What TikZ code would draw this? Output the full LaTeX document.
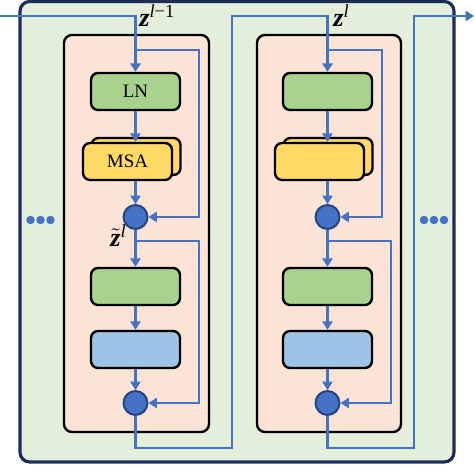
\documentclass[tikz,border=0pt]{standalone}
\usepackage{fontspec}
\setmainfont{Liberation Serif}
\usetikzlibrary{arrows.meta,calc}
\definecolor{outerfill}{HTML}{E3EEDB}
\definecolor{outerline}{HTML}{1F2B5B}
\definecolor{salmon}{HTML}{FBE3D5}
\definecolor{gbox}{HTML}{A9D18E}
\definecolor{ybox}{HTML}{FFD966}
\definecolor{bbox}{HTML}{9DC3E6}
\definecolor{lineblue}{HTML}{4472C4}
\definecolor{circfill}{HTML}{4472C4}
\definecolor{circline}{HTML}{22427F}
\tikzset{
  px/.style={x=0.02cm,y=-0.02cm},
  blockbox/.style={draw=black,line width=1.35pt,rounded corners=4pt,minimum width=1.78cm,minimum height=0.74cm,inner sep=0pt,font=\fontsize{10.8pt}{12pt}\selectfont},
  lnbox/.style={blockbox,fill=gbox},
  msabox/.style={blockbox,fill=ybox},
  mlpbox/.style={blockbox,fill=bbox},
  addc/.style={circle,draw=circline,fill=circfill,line width=1.1pt,minimum size=0.48cm,inner sep=0pt},
  conn/.style={draw=lineblue,line width=1.35pt},
  arr/.style={conn,-{Triangle[length=4.8pt,width=5.8pt]}},
  dotc/.style={circle,fill=lineblue,minimum size=0.17cm,inner sep=0pt},
  zlab/.style={inner sep=0pt,font=\fontsize{15pt}{16pt}\selectfont},
  framebox/.style={fill=salmon,draw=black,line width=1.35pt,rounded corners=4.5pt},
}
\begin{document}
\begin{tikzpicture}[px]
\useasboundingbox (0,0) rectangle (474,465);
% outer frame
\draw[fill=outerfill,draw=outerline,line width=1.8pt,rounded corners=5.5pt] (20,1.5) rectangle (454,462);
% inner blocks
\draw[framebox] (64,35) rectangle (209,432);
\draw[framebox] (257,35) rectangle (401,432);

% left block
\node[lnbox] (ln1) at (135.5,91.5) {LN};
\node[msabox] (msab1) at (136,156.5) {};
\node[msabox] (msa1) at (127.5,161.5) {MSA};
\node[addc] (c1) at (135.5,217) {};
\node[lnbox] (ln2) at (135.5,286.5) {};
\node[mlpbox] (mlp1) at (135.5,349.5) {};
\node[addc] (c2) at (135.5,403) {};

% right block
\node[lnbox] (ln3) at (327.5,91.5) {};
\node[msabox] (msab2) at (328,156.5) {};
\node[msabox] (msa2) at (319.5,161.5) {};
\node[addc] (c3) at (327.5,217) {};
\node[lnbox] (ln4) at (327.5,286.5) {};
\node[mlpbox] (mlp2) at (327.5,349.5) {};
\node[addc] (c4) at (327.5,403) {};

% coordinates
\coordinate (in) at (0,16);
\coordinate (out) at (474,16);
\coordinate (s1) at (135.5,50);
\coordinate (s2) at (135.5,241);
\coordinate (s3) at (327.5,50);
\coordinate (s4) at (327.5,241);

% left connectors
\draw[arr] (in) -| (ln1.north);
\draw[arr] (s1) -| (199,217) -- (c1.east);
\draw[arr] (ln1.south) -- (ln1.south |- msa1.north);
\draw[arr] (ln1.south |- msa1.south) -- (c1.north);
\draw[arr] (c1.south) -- (ln2.north);
\draw[arr] (s2) -| (199,403) -- (c2.east);
\draw[arr] (ln2.south) -- (mlp1.north);
\draw[arr] (mlp1.south) -- (c2.north);
\draw[arr] (c2.south) |- (232,448) |- (327.5,16) -- (ln3.north);

% right connectors
\draw[arr] (s3) -| (382,217) -- (c3.east);
\draw[arr] (ln3.south) -- (ln3.south |- msa2.north);
\draw[arr] (ln3.south |- msa2.south) -- (c3.north);
\draw[arr] (c3.south) -- (ln4.north);
\draw[arr] (s4) -| (391,403) -- (c4.east);
\draw[arr] (ln4.south) -- (mlp2.north);
\draw[arr] (mlp2.south) -- (c4.north);
\draw[arr] (c4.south) |- (414,448) |- (out);

% labels
\node[zlab,anchor=base west] (zl1) at (139,27) {\textbf{\textit{z}}\textsuperscript{\textit{l}−1}};
\node[zlab,anchor=base west] (zl2) at (333,27) {\textbf{\textit{z}}\textsuperscript{\textit{l}}};
\node[zlab,anchor=base west] (zl3) at (110,247) {$\tilde{\textbf{\textit{z}}}$\textsuperscript{\textit{l}}};

% ellipses
\node[dotc] (d1) at (30.5,220) {};
\node[dotc] (d2) at (40.5,220) {};
\node[dotc] (d3) at (50.5,220) {};
\node[dotc] (d4) at (424,220) {};
\node[dotc] (d5) at (434,220) {};
\node[dotc] (d6) at (444,220) {};
\end{tikzpicture}
\end{document}
